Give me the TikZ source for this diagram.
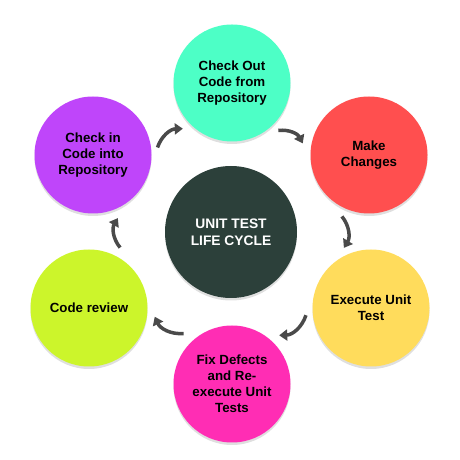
\documentclass[tikz,border=0pt]{standalone}
\usepackage{fontspec}
\setmainfont{Liberation Sans}
\usetikzlibrary{shadows,arrows.meta}

\definecolor{coreGreen}{HTML}{2C403A}
\definecolor{outAqua}{HTML}{4DFFC6}
\definecolor{makeRed}{HTML}{FF4F4F}
\definecolor{execYellow}{HTML}{FFDC5C}
\definecolor{fixPink}{HTML}{FF2DB4}
\definecolor{reviewLime}{HTML}{CCF52B}
\definecolor{inPurple}{HTML}{BF45FA}
\definecolor{arrowGray}{HTML}{4A4A4A}

\tikzset{
  stage/.style={circle, minimum size=117pt, inner sep=0pt, align=center,
    font=\fontsize{13.3}{16}\selectfont\bfseries,
    drop shadow={shadow xshift=0pt, shadow yshift=-2.5pt, opacity=0.25}},
  hub/.style={stage, minimum size=132pt, fill=coreGreen, text=white,
    font=\fontsize{13.8}{17}\selectfont\bfseries},
  cycarrow/.style={line width=3.5pt, draw=arrowGray,
    -{Triangle[width=11pt,length=8pt]}},
}

\begin{document}
\begin{tikzpicture}[x=1pt, y=1pt]
  \useasboundingbox (0,0) rectangle (460,460);

  % middle
  \node[hub] (core) at (231,228) {UNIT TEST\\LIFE CYCLE};

  % the six steps
  \node[stage, fill=outAqua] (checkout) at (232,377) {Check Out\\Code from\\Repository};
  \node[stage, fill=makeRed] (make) at (369,305) {Make\\Changes};
  \node[stage, fill=execYellow] (execute) at (371,152) {Execute Unit\\Test};
  \node[stage, fill=fixPink] (fix) at (232,76) {Fix Defects\\and Re-\\execute Unit\\Tests};
  \node[stage, fill=reviewLime] (review) at (89,152) {Code review};
  \node[stage, fill=inPurple] (checkin) at (93,305) {Check in\\Code into\\Repository};

  % arrows round the middle
  \foreach \a/\b in {131/115, 65/51, 8/-8, -48/-65, -115/-132, 188/173}
    \draw[cycarrow] ([shift={(\a:112)}]core.center) to[bend left=35] ([shift={(\b:114)}]core.center);

\end{tikzpicture}
\end{document}
